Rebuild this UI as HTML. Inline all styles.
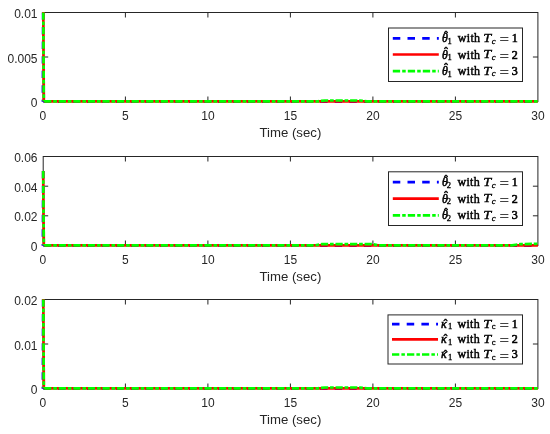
<!DOCTYPE html>
<html><head><meta charset="utf-8"><style>
html,body{margin:0;padding:0;background:#fff;}
svg{display:block;}
.tl{font-family:"Liberation Sans",Arial,sans-serif;font-size:12px;fill:#262626;}
.xl{font-family:"Liberation Sans",Arial,sans-serif;font-size:13.2px;fill:#262626;}
.lg{font-family:"Liberation Serif","Times New Roman",serif;font-size:12px;fill:#000;stroke:#000;stroke-width:0.35px;}
.it{font-style:italic;}
.sb{font-size:8.5px;}
.eq{font-size:14px;stroke-width:0.2px;}
.wt{letter-spacing:0.3px;stroke-width:0.45px;}
.dg{stroke-width:0.6px;}
.th{stroke-width:0.5px;}
</style></head><body>
<svg width="550" height="434" viewBox="0 0 550 434">
<rect x="0" y="0" width="550" height="434" fill="#fff"/>

<clipPath id="c0"><rect x="39.9" y="12.0" width="499.0" height="93.0"/></clipPath>
<g stroke="#262626" stroke-width="1" fill="none">
<rect x="43.20" y="12.5" width="494.70" height="89.0"/>
<path d="M125.4 12.5v5M125.4 101.5v-5"/>
<path d="M207.9 12.5v5M207.9 101.5v-5"/>
<path d="M290.4 12.5v5M290.4 101.5v-5"/>
<path d="M372.9 12.5v5M372.9 101.5v-5"/>
<path d="M455.4 12.5v5M455.4 101.5v-5"/>
<path d="M43.20 57.0h5M537.90 57.0h-5"/>
</g>
<g clip-path="url(#c0)" fill="none" stroke-width="2.7">
<path d="M43.2 -7.5 L42.9 101.7" stroke="#0000ff" stroke-dasharray="7.4 7.17" stroke-dashoffset="9.21"/>
<path d="M43.0 101.7 L537.9 101.7" stroke="#0000ff" stroke-dasharray="7.4 7.17" stroke-dashoffset="-0.35"/>
<path d="M43.2 -7.5 L43.8 101.3" stroke="#ff0000"/>
<path d="M43.8 101.3 L537.9 101.3" stroke="#ff0000"/>
<path d="M43.2 -7.5 L43.8 101.3" stroke="#00ff00" stroke-dasharray="7.27 1.8 3.7 1.8" stroke-dashoffset="9.21"/>
<path d="M43.8 101.3 L318 101.3 L325 100.5 L360 100.5 L367 101.3 L537.9 101.3" stroke="#00ff00" stroke-dasharray="7.27 1.8 3.7 1.8" stroke-dashoffset="-0.35"/>
</g>
<text class="tl" x="42.9" y="119.7" text-anchor="middle">0</text>
<text class="tl" x="125.4" y="119.7" text-anchor="middle">5</text>
<text class="tl" x="207.9" y="119.7" text-anchor="middle">10</text>
<text class="tl" x="290.4" y="119.7" text-anchor="middle">15</text>
<text class="tl" x="372.9" y="119.7" text-anchor="middle">20</text>
<text class="tl" x="455.4" y="119.7" text-anchor="middle">25</text>
<text class="tl" x="537.9" y="119.7" text-anchor="middle">30</text>
<text class="tl" x="37.5" y="18.0" text-anchor="end">0.01</text>
<text class="tl" x="37.5" y="62.5" text-anchor="end">0.005</text>
<text class="tl" x="37.5" y="107.0" text-anchor="end">0</text>
<text class="xl" x="290.4" y="137.0" text-anchor="middle">Time (sec)</text>
<clipPath id="c1"><rect x="39.9" y="156.0" width="499.0" height="93.0"/></clipPath>
<g stroke="#262626" stroke-width="1" fill="none">
<rect x="43.20" y="156.5" width="494.70" height="89.0"/>
<path d="M125.4 156.5v5M125.4 245.5v-5"/>
<path d="M207.9 156.5v5M207.9 245.5v-5"/>
<path d="M290.4 156.5v5M290.4 245.5v-5"/>
<path d="M372.9 156.5v5M372.9 245.5v-5"/>
<path d="M455.4 156.5v5M455.4 245.5v-5"/>
<path d="M43.20 186.2h5M537.90 186.2h-5"/>
<path d="M43.20 215.8h5M537.90 215.8h-5"/>
</g>
<g clip-path="url(#c1)" fill="none" stroke-width="2.7">
<path d="M43.2 171.1 L42.9 245.7" stroke="#0000ff" stroke-dasharray="7.4 7.17" stroke-dashoffset="0"/>
<path d="M43.0 245.7 L537.9 245.7" stroke="#0000ff" stroke-dasharray="7.4 7.17" stroke-dashoffset="-0.35"/>
<path d="M43.2 171.1 L43.8 245.3" stroke="#ff0000"/>
<path d="M43.8 245.3 L537.9 245.3" stroke="#ff0000"/>
<path d="M43.2 171.1 L43.8 245.3" stroke="#00ff00" stroke-dasharray="7.27 1.8 3.7 1.8" stroke-dashoffset="0"/>
<path d="M43.8 245.3 L315 245.3 L322 244.1 L372 244.1 L378 245.3 L512 245.3 L520 244.1 L537.9 243.9" stroke="#00ff00" stroke-dasharray="7.27 1.8 3.7 1.8" stroke-dashoffset="-0.35"/>
</g>
<text class="tl" x="42.9" y="263.7" text-anchor="middle">0</text>
<text class="tl" x="125.4" y="263.7" text-anchor="middle">5</text>
<text class="tl" x="207.9" y="263.7" text-anchor="middle">10</text>
<text class="tl" x="290.4" y="263.7" text-anchor="middle">15</text>
<text class="tl" x="372.9" y="263.7" text-anchor="middle">20</text>
<text class="tl" x="455.4" y="263.7" text-anchor="middle">25</text>
<text class="tl" x="537.9" y="263.7" text-anchor="middle">30</text>
<text class="tl" x="37.5" y="162.0" text-anchor="end">0.06</text>
<text class="tl" x="37.5" y="191.7" text-anchor="end">0.04</text>
<text class="tl" x="37.5" y="221.3" text-anchor="end">0.02</text>
<text class="tl" x="37.5" y="251.0" text-anchor="end">0</text>
<text class="xl" x="290.4" y="281.0" text-anchor="middle">Time (sec)</text>
<clipPath id="c2"><rect x="39.9" y="299.0" width="499.0" height="93.0"/></clipPath>
<g stroke="#262626" stroke-width="1" fill="none">
<rect x="43.20" y="299.5" width="494.70" height="89.0"/>
<path d="M125.4 299.5v5M125.4 388.5v-5"/>
<path d="M207.9 299.5v5M207.9 388.5v-5"/>
<path d="M290.4 299.5v5M290.4 388.5v-5"/>
<path d="M372.9 299.5v5M372.9 388.5v-5"/>
<path d="M455.4 299.5v5M455.4 388.5v-5"/>
<path d="M43.20 344.0h5M537.90 344.0h-5"/>
</g>
<g clip-path="url(#c2)" fill="none" stroke-width="2.7">
<path d="M43.2 279.5 L42.9 388.7" stroke="#0000ff" stroke-dasharray="7.4 7.17" stroke-dashoffset="9.21"/>
<path d="M43.0 388.7 L537.9 388.7" stroke="#0000ff" stroke-dasharray="7.4 7.17" stroke-dashoffset="-0.35"/>
<path d="M43.2 279.5 L43.8 388.3" stroke="#ff0000"/>
<path d="M43.8 388.3 L537.9 388.3" stroke="#ff0000"/>
<path d="M43.2 279.5 L43.8 388.3" stroke="#00ff00" stroke-dasharray="7.27 1.8 3.7 1.8" stroke-dashoffset="9.21"/>
<path d="M43.8 388.3 L318 388.3 L325 387.5 L360 387.5 L367 388.3 L537.9 388.3" stroke="#00ff00" stroke-dasharray="7.27 1.8 3.7 1.8" stroke-dashoffset="-0.35"/>
</g>
<text class="tl" x="42.9" y="406.7" text-anchor="middle">0</text>
<text class="tl" x="125.4" y="406.7" text-anchor="middle">5</text>
<text class="tl" x="207.9" y="406.7" text-anchor="middle">10</text>
<text class="tl" x="290.4" y="406.7" text-anchor="middle">15</text>
<text class="tl" x="372.9" y="406.7" text-anchor="middle">20</text>
<text class="tl" x="455.4" y="406.7" text-anchor="middle">25</text>
<text class="tl" x="537.9" y="406.7" text-anchor="middle">30</text>
<text class="tl" x="37.5" y="305.0" text-anchor="end">0.02</text>
<text class="tl" x="37.5" y="349.5" text-anchor="end">0.01</text>
<text class="tl" x="37.5" y="394.0" text-anchor="end">0</text>
<text class="xl" x="290.4" y="424.0" text-anchor="middle">Time (sec)</text>
<rect x="388.5" y="28.0" width="134" height="53.5" fill="#fff" stroke="#262626" stroke-width="1"/>
<g fill="none" stroke-width="2.7">
<path d="M392.8 38.3H438.8" stroke="#0000ff" stroke-dasharray="7.5 7.2"/>
<path d="M392.8 54.5H438.8" stroke="#ff0000"/>
<path d="M392.8 71.2H438.8" stroke="#00ff00" stroke-dasharray="7.3 2.1 3.5 2.1"/>
</g>
<text class="lg it th" x="441.9" y="42.0">θ</text>
<text class="lg" x="444.0" y="39.5">ˆ</text>
<text class="lg sb" x="447.4" y="43.8">1</text>
<text class="lg wt" x="457.8" y="42.0">with</text>
<text class="lg it" x="483.3" y="42.0" transform="translate(483.3 42.0) scale(1.2 1) translate(-483.3 -42.0)">T</text>
<text class="lg it sb" x="491.7" y="43.5">c</text>
<text class="lg eq" x="499.6" y="44.4" transform="translate(499.6 0) scale(1.2 1) translate(-499.6 0)">=</text>
<text class="lg dg" x="511.8" y="42.0">1</text>
<text class="lg it th" x="441.9" y="58.5">θ</text>
<text class="lg" x="444.0" y="56.0">ˆ</text>
<text class="lg sb" x="447.4" y="60.3">1</text>
<text class="lg wt" x="457.8" y="58.5">with</text>
<text class="lg it" x="483.3" y="58.5" transform="translate(483.3 58.5) scale(1.2 1) translate(-483.3 -58.5)">T</text>
<text class="lg it sb" x="491.7" y="60.0">c</text>
<text class="lg eq" x="499.6" y="60.9" transform="translate(499.6 0) scale(1.2 1) translate(-499.6 0)">=</text>
<text class="lg dg" x="511.8" y="58.5">2</text>
<text class="lg it th" x="441.9" y="74.9">θ</text>
<text class="lg" x="444.0" y="72.4">ˆ</text>
<text class="lg sb" x="447.4" y="76.7">1</text>
<text class="lg wt" x="457.8" y="74.9">with</text>
<text class="lg it" x="483.3" y="74.9" transform="translate(483.3 74.9) scale(1.2 1) translate(-483.3 -74.9)">T</text>
<text class="lg it sb" x="491.7" y="76.4">c</text>
<text class="lg eq" x="499.6" y="77.3" transform="translate(499.6 0) scale(1.2 1) translate(-499.6 0)">=</text>
<text class="lg dg" x="511.8" y="74.9">3</text>
<rect x="388.5" y="171.8" width="134" height="53.7" fill="#fff" stroke="#262626" stroke-width="1"/>
<g fill="none" stroke-width="2.7">
<path d="M392.8 182.2H438.8" stroke="#0000ff" stroke-dasharray="7.5 7.2"/>
<path d="M392.8 198.7H438.8" stroke="#ff0000"/>
<path d="M392.8 215.3H438.8" stroke="#00ff00" stroke-dasharray="7.3 2.1 3.5 2.1"/>
</g>
<text class="lg it th" x="441.9" y="186.0">θ</text>
<text class="lg" x="444.0" y="183.5">ˆ</text>
<text class="lg sb" x="446.8" y="187.8">2</text>
<text class="lg wt" x="457.5" y="186.0">with</text>
<text class="lg it" x="483.3" y="186.0" transform="translate(483.3 186.0) scale(1.2 1) translate(-483.3 -186.0)">T</text>
<text class="lg it sb" x="491.7" y="187.5">c</text>
<text class="lg eq" x="499.6" y="188.4" transform="translate(499.6 0) scale(1.2 1) translate(-499.6 0)">=</text>
<text class="lg dg" x="511.8" y="186.0">1</text>
<text class="lg it th" x="441.9" y="202.5">θ</text>
<text class="lg" x="444.0" y="200.0">ˆ</text>
<text class="lg sb" x="446.8" y="204.3">2</text>
<text class="lg wt" x="457.5" y="202.5">with</text>
<text class="lg it" x="483.3" y="202.5" transform="translate(483.3 202.5) scale(1.2 1) translate(-483.3 -202.5)">T</text>
<text class="lg it sb" x="491.7" y="204.0">c</text>
<text class="lg eq" x="499.6" y="204.9" transform="translate(499.6 0) scale(1.2 1) translate(-499.6 0)">=</text>
<text class="lg dg" x="511.8" y="202.5">2</text>
<text class="lg it th" x="441.9" y="219.0">θ</text>
<text class="lg" x="444.0" y="216.5">ˆ</text>
<text class="lg sb" x="446.8" y="220.8">2</text>
<text class="lg wt" x="457.5" y="219.0">with</text>
<text class="lg it" x="483.3" y="219.0" transform="translate(483.3 219.0) scale(1.2 1) translate(-483.3 -219.0)">T</text>
<text class="lg it sb" x="491.7" y="220.5">c</text>
<text class="lg eq" x="499.6" y="221.4" transform="translate(499.6 0) scale(1.2 1) translate(-499.6 0)">=</text>
<text class="lg dg" x="511.8" y="219.0">3</text>
<rect x="388.0" y="314.9" width="134.5" height="49.1" fill="#fff" stroke="#262626" stroke-width="1"/>
<g fill="none" stroke-width="2.7">
<path d="M392.0 324.2H438.0" stroke="#0000ff" stroke-dasharray="7.5 7.2"/>
<path d="M392.0 339.4H438.0" stroke="#ff0000"/>
<path d="M392.0 354.5H438.0" stroke="#00ff00" stroke-dasharray="7.3 2.1 3.5 2.1"/>
</g>
<text class="lg it th" x="441.0" y="327.8">κ</text>
<text class="lg" x="443.6" y="328.1">ˆ</text>
<text class="lg sb" x="447.9" y="329.3">1</text>
<text class="lg wt" x="457.5" y="327.8">with</text>
<text class="lg it" x="483.3" y="327.8" transform="translate(483.3 327.8) scale(1.2 1) translate(-483.3 -327.8)">T</text>
<text class="lg sb" x="491.7" y="329.3">c</text>
<text class="lg eq" x="499.6" y="330.2" transform="translate(499.6 0) scale(1.2 1) translate(-499.6 0)">=</text>
<text class="lg dg" x="511.8" y="327.8">1</text>
<text class="lg it th" x="441.0" y="343.0">κ</text>
<text class="lg" x="443.6" y="343.3">ˆ</text>
<text class="lg sb" x="447.9" y="344.5">1</text>
<text class="lg wt" x="457.5" y="343.0">with</text>
<text class="lg it" x="483.3" y="343.0" transform="translate(483.3 343.0) scale(1.2 1) translate(-483.3 -343.0)">T</text>
<text class="lg sb" x="491.7" y="344.5">c</text>
<text class="lg eq" x="499.6" y="345.4" transform="translate(499.6 0) scale(1.2 1) translate(-499.6 0)">=</text>
<text class="lg dg" x="511.8" y="343.0">2</text>
<text class="lg it th" x="441.0" y="358.2">κ</text>
<text class="lg" x="443.6" y="358.5">ˆ</text>
<text class="lg sb" x="447.9" y="359.7">1</text>
<text class="lg wt" x="457.5" y="358.2">with</text>
<text class="lg it" x="483.3" y="358.2" transform="translate(483.3 358.2) scale(1.2 1) translate(-483.3 -358.2)">T</text>
<text class="lg sb" x="491.7" y="359.7">c</text>
<text class="lg eq" x="499.6" y="360.6" transform="translate(499.6 0) scale(1.2 1) translate(-499.6 0)">=</text>
<text class="lg dg" x="511.8" y="358.2">3</text>
</svg>
</body></html>
